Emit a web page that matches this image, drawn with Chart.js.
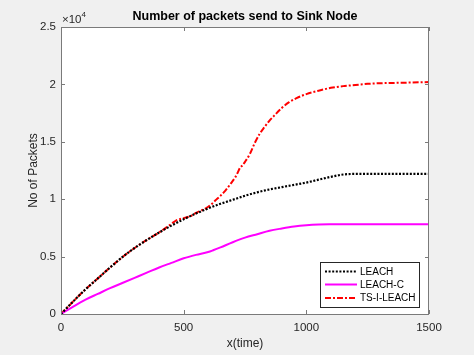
<!DOCTYPE html>
<html>
<head>
<meta charset="utf-8">
<script src="https://cdn.jsdelivr.net/npm/chart.js@4/dist/chart.umd.min.js"></script>
<style>
html,body{margin:0;padding:0;background:#f0f0f0;}
#wrap{width:474px;height:355px;}
</style>
</head>
<body>
<div id="wrap"><canvas id="c" width="474" height="355"></canvas></div>
<script>
// ---- data ----
const leachX = [0,50,100,150,200,250,300,350,400,450,500,550,600,650,700,750,800,850,900,950,1000,1050,1100,1150,1200,1300,1400,1500];
const leachY = [0,1100,2150,3100,4050,4950,5750,6450,7100,7700,8250,8750,9200,9600,9950,10300,10600,10850,11050,11250,11450,11700,11950,12150,12200,12200,12200,12200];

const leachCX = [0,50,100,150,200,250,300,350,400,450,500,550,600,620,650,700,750,800,850,900,950,1000,1050,1100,1200,1500];
const leachCY = [0,650,1250,1750,2250,2700,3150,3600,4050,4450,4850,5150,5400,5550,5800,6250,6650,6950,7250,7450,7620,7730,7790,7810,7820,7820];

const tsX = [0,50,100,150,200,250,300,350,400,430,450,470,490,510,530,550,570,590,610,630,650,670,690,710,720,730,740,750,770,790,810,830,850,870,900,930,960,1000,1050,1100,1150,1200,1250,1300,1400,1500];
const tsY = [0,1100,2150,3100,4050,4950,5750,6450,7100,7550,7850,8150,8300,8400,8550,8800,9000,9200,9500,9900,10300,10750,11300,11900,12300,12750,12950,13250,13950,14900,15700,16300,16850,17300,17950,18450,18800,19150,19450,19700,19850,19950,20050,20100,20150,20200];

const seriesNames = ['LEACH','LEACH-C','TS-I-LEACH'];
const chartTitle = 'Number of packets send to Sink Node';
const xTicks = [0,500,1000,1500];
const xTickLabels = ['0','500','1000','1500'];
const yTickValues = [0,5000,10000,15000,20000,25000];
const yTickLabels = ['0','0.5','1','1.5','2','2.5'];

function pts(xs, ys){ return xs.map((x,i)=>({x:x,y:ys[i]})); }

const FONT = '"Liberation Sans", Arial, Helvetica, sans-serif';
const AXC = '#262626';
const BOXC = '#7a7a7a';

const bgPlugin = {
  id:'bg',
  beforeDatasetsDraw(chart){
    const {ctx, chartArea:a} = chart;
    ctx.save();
    ctx.fillStyle = '#ffffff';
    ctx.fillRect(a.left, a.top, a.right-a.left, a.bottom-a.top);
    ctx.restore();
  },
  afterDatasetsDraw(chart){
    const {ctx, chartArea:a, scales} = chart;
    ctx.save();
    ctx.strokeStyle = BOXC;
    ctx.lineWidth = 1;
    ctx.strokeRect(a.left+0.5, a.top+0.5, a.right-a.left-1, a.bottom-a.top);
    const tl = 4;
    ctx.beginPath();
    xTicks.forEach(v=>{
      const px = Math.round(scales.x.getPixelForValue(v))+0.5;
      ctx.moveTo(px, a.bottom); ctx.lineTo(px, a.bottom-tl);
      ctx.moveTo(px, a.top); ctx.lineTo(px, a.top+tl);
    });
    yTickValues.forEach(v=>{
      const py = Math.round(scales.y.getPixelForValue(v))+0.5;
      ctx.moveTo(a.left, py); ctx.lineTo(a.left+tl, py);
      ctx.moveTo(a.right, py); ctx.lineTo(a.right-tl, py);
    });
    ctx.stroke();

    // title
    ctx.fillStyle = '#000000';
    ctx.font = 'bold 12.5px ' + FONT;
    ctx.textAlign = 'center';
    ctx.textBaseline = 'middle';
    ctx.fillText(chartTitle, (a.left+a.right)/2, 17);

    // exponent label
    ctx.fillStyle = AXC;
    ctx.textBaseline = 'alphabetic';
    ctx.textAlign = 'left';
    ctx.font = '11.5px ' + FONT;
    ctx.fillText('\u00d710', a.left+1, a.top-4);
    const w = ctx.measureText('\u00d710').width;
    ctx.font = '8px ' + FONT;
    ctx.fillText('4', a.left+1+w, a.top-10);

    // legend
    const bw = 99, bh = 45;
    const bx = a.right - 10 - bw, by = a.bottom - 7 - bh;
    ctx.fillStyle = '#ffffff';
    ctx.fillRect(bx, by, bw, bh);
    ctx.strokeStyle = '#262626';
    ctx.lineWidth = 1;
    ctx.strokeRect(bx+0.5, by+0.5, bw, bh);
    const rows = [by+9.5, by+22.5, by+36];
    chart.data.datasets.forEach((ds,i)=>{
      ctx.save();
      ctx.strokeStyle = ds.borderColor;
      ctx.lineWidth = ds.borderWidth;
      ctx.setLineDash(ds.borderDash || []);
      ctx.beginPath();
      ctx.moveTo(bx+5, rows[i]); ctx.lineTo(bx+37, rows[i]);
      ctx.stroke();
      ctx.restore();
      ctx.fillStyle = '#000000';
      ctx.font = '10px ' + FONT;
      ctx.textBaseline = 'middle';
      ctx.fillText(ds.label, bx+40, rows[i]+0.5);
    });
    ctx.restore();
  }
};

new Chart(document.getElementById('c'), {
  type:'line',
  data:{
    datasets:[
      {label:seriesNames[0], data:pts(leachX,leachY), borderColor:'#000000', borderWidth:2.2, borderDash:[2,1.6], pointRadius:0, cubicInterpolationMode:'monotone'},
      {label:seriesNames[1], data:pts(leachCX,leachCY), borderColor:'#ff00ff', borderWidth:2, pointRadius:0, cubicInterpolationMode:'monotone'},
      {label:seriesNames[2], data:pts(tsX,tsY), borderColor:'#ff0000', borderWidth:2, borderDash:[6,2,2,2], pointRadius:0, cubicInterpolationMode:'monotone'}
    ]
  },
  options:{
    responsive:false,
    animation:false,
    events:[],
    layout:{padding:{top:27,right:45,bottom:0,left:0}},
    plugins:{
      legend:{display:false},
      tooltip:{enabled:false},
      title:{display:false}
    },
    scales:{
      x:{type:'linear', min:0, max:1500,
        afterFit(s){ s.height = 41; },
        afterBuildTicks(s){ s.ticks = xTicks.map(v=>({value:v})); },
        grid:{display:false, drawTicks:false}, border:{display:false},
        ticks:{color:AXC, font:{family:FONT, size:11.5}, padding:7, maxRotation:0, autoSkip:false,
          callback(v){ const i = xTicks.indexOf(v); return i>=0 ? xTickLabels[i] : ''; }},
        title:{display:true, text:'x(time)', color:AXC, font:{family:FONT, size:12}, padding:{top:0,bottom:4}}
      },
      y:{type:'linear', min:0, max:25000,
        afterFit(s){ s.width = 61; },
        afterBuildTicks(s){ s.ticks = yTickValues.map(v=>({value:v})); },
        grid:{display:false, drawTicks:false}, border:{display:false},
        ticks:{color:AXC, font:{family:FONT, size:11.5}, padding:5,
          callback(v){ const i = yTickValues.indexOf(v); return i>=0 ? yTickLabels[i] : ''; }},
        title:{display:true, text:'No of Packets', color:AXC, font:{family:FONT, size:12}, padding:{top:26,bottom:0}}
      }
    }
  },
  plugins:[bgPlugin]
});
</script>
</body>
</html>
